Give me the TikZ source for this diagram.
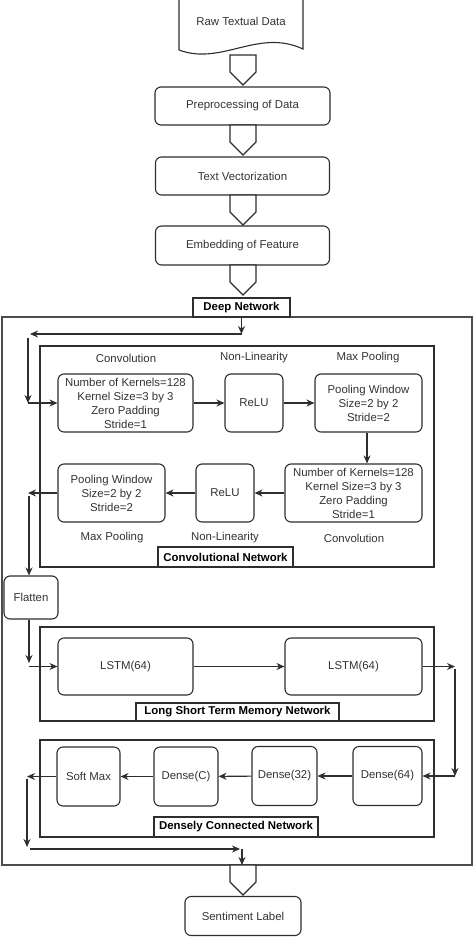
\documentclass[tikz,border=0pt]{standalone}
\usepackage{fontspec}
\setmainfont{Liberation Sans}
\usetikzlibrary{arrows.meta}
\definecolor{ln}{HTML}{2E2E2E}
\definecolor{tx}{HTML}{333333}
\begin{document}
\begin{tikzpicture}[x=1pt,y=-1pt,
  font=\fontsize{11.4}{14}\selectfont,
  box/.style={draw=ln, rounded corners=6pt, line width=1.1pt, text=tx, align=center, inner sep=0pt, fill=white},
  cont/.style={draw=ln, line width=1.1pt},
  tag/.style={draw=ln, line width=1.1pt, fill=white, text=black, inner sep=0pt, font=\fontsize{11.4}{14}\selectfont\bfseries},
  lbl/.style={text=tx, inner sep=0pt},
  arr/.style={draw=ln, line width=1.1pt, -{Stealth[length=8pt,width=7pt]}},
  blk/.style={draw=ln, line width=1.1pt, fill=white},
  pent/.pic={\draw[blk] (-13,0) -- (13,0) -- (13,17) -- (0,30) -- (-13,17) -- cycle;}]
\useasboundingbox (0,0) rectangle (474,937);

% ---- top flow ----
\draw[draw=ln, line width=1.1pt] (179,0) -- (179,50) .. controls (222,66) and (258,28) .. (303,49) -- (303,0);
\node[lbl] (raw) at (241,21) {Raw Textual Data};
\pic at (243,55) {pent};
\node[box, minimum width=175pt, minimum height=38pt] (pre) at (242.5,106) {Preprocessing of Data};
\pic at (243,125) {pent};
\node[box, minimum width=174pt, minimum height=38pt] (vec) at (242.5,176) {Text Vectorization};
\pic at (243,195) {pent};
\node[box, minimum width=174pt, minimum height=39pt] (emb) at (242.5,245.5) {Embedding of Feature};
\pic at (243,265) {pent};

% ---- outer deep network box ----
\draw[draw=ln!85, line width=1.4pt] (2,317) rectangle (472,865);
\node[tag, minimum width=97pt, minimum height=19pt] (deep) at (241.5,307.5) {Deep Network};

% ---- convolutional network ----
\draw[cont] (40,346) rectangle (434,567);
\node[lbl] (l1) at (126,358) {Convolution};
\node[lbl] (l2) at (254,358) {Non-Linearity};
\node[lbl] (l3) at (368,358) {Max Pooling};
\node[box, minimum width=135pt, minimum height=58pt] (conv1) at (125.5,403)
  {Number of Kernels=128\\Kernel Size=3 by 3\\Zero Padding\\Stride=1};
\node[box, minimum width=58pt, minimum height=58pt] (relu1) at (254,403) {ReLU};
\node[box, minimum width=107pt, minimum height=58pt] (pool1) at (368.5,403)
  {Pooling Window\\Size=2 by 2\\Stride=2};
\node[box, minimum width=137pt, minimum height=58pt] (conv2) at (353.5,493)
  {Number of Kernels=128\\Kernel Size=3 by 3\\Zero Padding\\Stride=1};
\node[box, minimum width=58pt, minimum height=58pt] (relu2) at (225,493) {ReLU};
\node[box, minimum width=107pt, minimum height=58pt] (pool2) at (111.5,493)
  {Pooling Window\\Size=2 by 2\\Stride=2};
\node[lbl] (l4) at (112,538) {Max Pooling};
\node[lbl] (l5) at (225,538) {Non-Linearity};
\node[lbl] (l6) at (354,538) {Convolution};
\node[tag, minimum width=135pt, minimum height=20pt] (ctag) at (225.5,557) {Convolutional Network};

% ---- flatten ----
\node[box, minimum width=54pt, minimum height=43pt] (flat) at (31,597.5) {Flatten};

% ---- LSTM ----
\draw[cont] (40,627) rectangle (434,721);
\node[box, minimum width=135pt, minimum height=57pt] (lstm1) at (125.5,666.5) {LSTM(64)};
\node[box, minimum width=137pt, minimum height=57pt] (lstm2) at (353.5,666.5) {LSTM(64)};
\node[tag, minimum width=203pt, minimum height=18pt] (ltag) at (237.5,712) {Long Short Term Memory Network};

% ---- Dense ----
\draw[cont] (40,740) rectangle (434,837);
\node[box, minimum width=63pt, minimum height=59pt] (soft) at (88.5,776.5) {Soft Max};
\node[box, minimum width=64pt, minimum height=59pt] (dc) at (186,776.5) {Dense(C)};
\node[box, minimum width=65pt, minimum height=59pt] (d32) at (284.5,776) {Dense(32)};
\node[box, minimum width=69pt, minimum height=59pt] (d64) at (387.5,776) {Dense(64)};
\node[tag, minimum width=164pt, minimum height=20pt] (dtag) at (236,827) {Densely Connected Network};

% ---- output ----
\pic at (243,865) {pent};
\node[box, minimum width=116pt, minimum height=39pt] (sent) at (243,916) {Sentiment Label};

% ---- waypoints ----
\coordinate (a1) at (241.5,334);
\coordinate (a2) at (30,334);
\coordinate (a3) at (28,338);
\coordinate (a4) at (28,403);
\coordinate (b1) at (28,493);
\coordinate (b2) at (29,496);
\coordinate (c1) at (29,663);
\coordinate (c2) at (29,666.5);
\coordinate (e1) at (455,666.5);
\coordinate (e2) at (455,669);
\coordinate (e3) at (455,776);
\coordinate (f1) at (27,776.5);
\coordinate (f2) at (27,779);
\coordinate (f3) at (27,847);
\coordinate (f4) at (30,849);
\coordinate (f5) at (240,849);
\coordinate (f6) at (242,849);
\coordinate (f7) at (242,865);

% ---- connectors ----
\draw[arr] (deep.south) -- (a1);
\draw[arr] (a1) -- (a2);
\draw[arr] (a3) -- (a4);
\draw[arr] (a4) -- (conv1.west);
\draw[arr] (conv1) -- (relu1);
\draw[arr] (relu1) -- (pool1);
\draw[arr] ([xshift=-1.5pt]pool1.south) -- ([xshift=-1.5pt]pool1.south |- conv2.north);
\draw[arr] (conv2) -- (relu2);
\draw[arr] (relu2) -- (pool2);
\draw[arr] (pool2.west) -- (b1);
\draw[arr] (b2) -- (b2 |- flat.north);
\draw[arr] (b2 |- flat.south) -- (c1);
\draw[arr] (c2) -- (lstm1.west);
\draw[arr] (lstm1) -- (lstm2);
\draw[arr] (lstm2.east) -- (e1);
\draw[arr] (e2) -- (e3);
\draw[arr] (e3) -- (d64.east);
\draw[arr] (d64) -- (d32);
\draw[arr] (d32) -- (dc);
\draw[arr] (dc) -- (soft);
\draw[arr] (soft.west) -- (f1);
\draw[arr] (f2) -- (f3);
\draw[arr] (f4) -- (f5);
\draw[arr] (f6) -- (f7);
\end{tikzpicture}
\end{document}
